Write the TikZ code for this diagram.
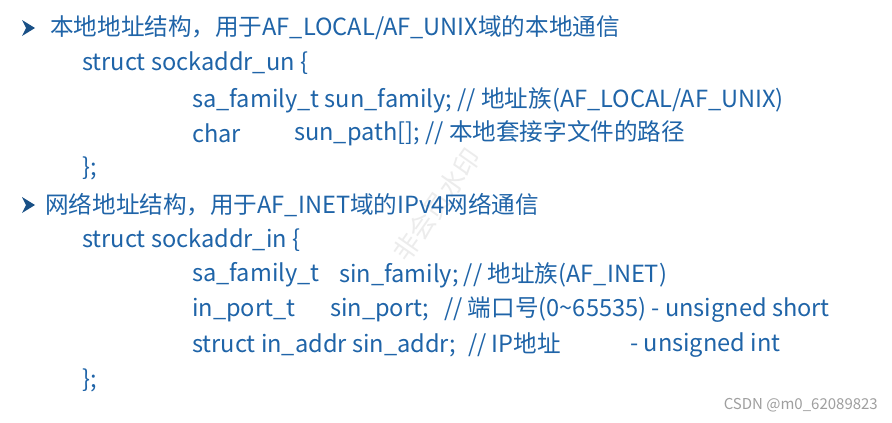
\documentclass[tikz,border=0pt]{standalone}
\usepackage{fontspec}
\setmainfont{Noto Sans CJK SC}
\definecolor{tb}{HTML}{1F64A8}
\begin{document}
\begin{tikzpicture}[x=1pt,y=-1pt,
  t/.style={anchor=west,inner sep=0pt,text=tb,font=\fontsize{23.6}{26}\selectfont},
  bul/.style={fill=tb!80!black}]
\useasboundingbox (0,0) rectangle (892,423);
\fill[white] (0,0) rectangle (892,423);
\node[rotate=55,text=gray!15,font=\fontsize{26}{30}\selectfont] (wm) at (437,205) {非会员水印};
\fill[bul] (22,20) -- (35,28) -- (22,36) -- (26,28) -- cycle;
\fill[bul] (22,197) -- (35,205) -- (22,213) -- (26,205) -- cycle;
\node[t] (l1) at (50,28) {本地地址结构，用于AF\_LOCAL/AF\_UNIX域的本地通信};
\node[t] (l2) at (82,63) {struct sockaddr\_un \{};
\node[t] (l3) at (192,100) {sa\_family\_t sun\_family; // 地址族(AF\_LOCAL/AF\_UNIX)};
\node[t] (l4a) at (192,133) {char};
\node[t] (l4) at (294,133) {sun\_path[]; // 本地套接字文件的路径};
\node[t] (l5) at (82,168) {\};};
\node[t] (l6) at (45,205) {网络地址结构，用于AF\_INET域的IPv4网络通信};
\node[t] (l7) at (82,240) {struct sockaddr\_in \{};
\node[t] (l8a) at (192,275) {sa\_family\_t};
\node[t] (l8) at (339,275) {sin\_family; // 地址族(AF\_INET)};
\node[t] (l9a) at (192,310) {in\_port\_t};
\node[t] (l9) at (330,310) {sin\_port;};
\node[t] (l9b) at (444,310) {// 端口号(0\textasciitilde65535) - unsigned short};
\node[t] (l10a) at (192,345) {struct in\_addr sin\_addr;};
\node[t] (l10) at (468,345) {// IP地址};
\node[t] (l10b) at (630,345) {- unsigned int};
\node[t] (l11) at (82,380) {\};};
\node[anchor=east,inner sep=0pt,text=gray!75,font=\fontsize{15}{17}\selectfont] (cs) at (878,405) {CSDN @m0\_62089823};
\end{tikzpicture}
\end{document}
